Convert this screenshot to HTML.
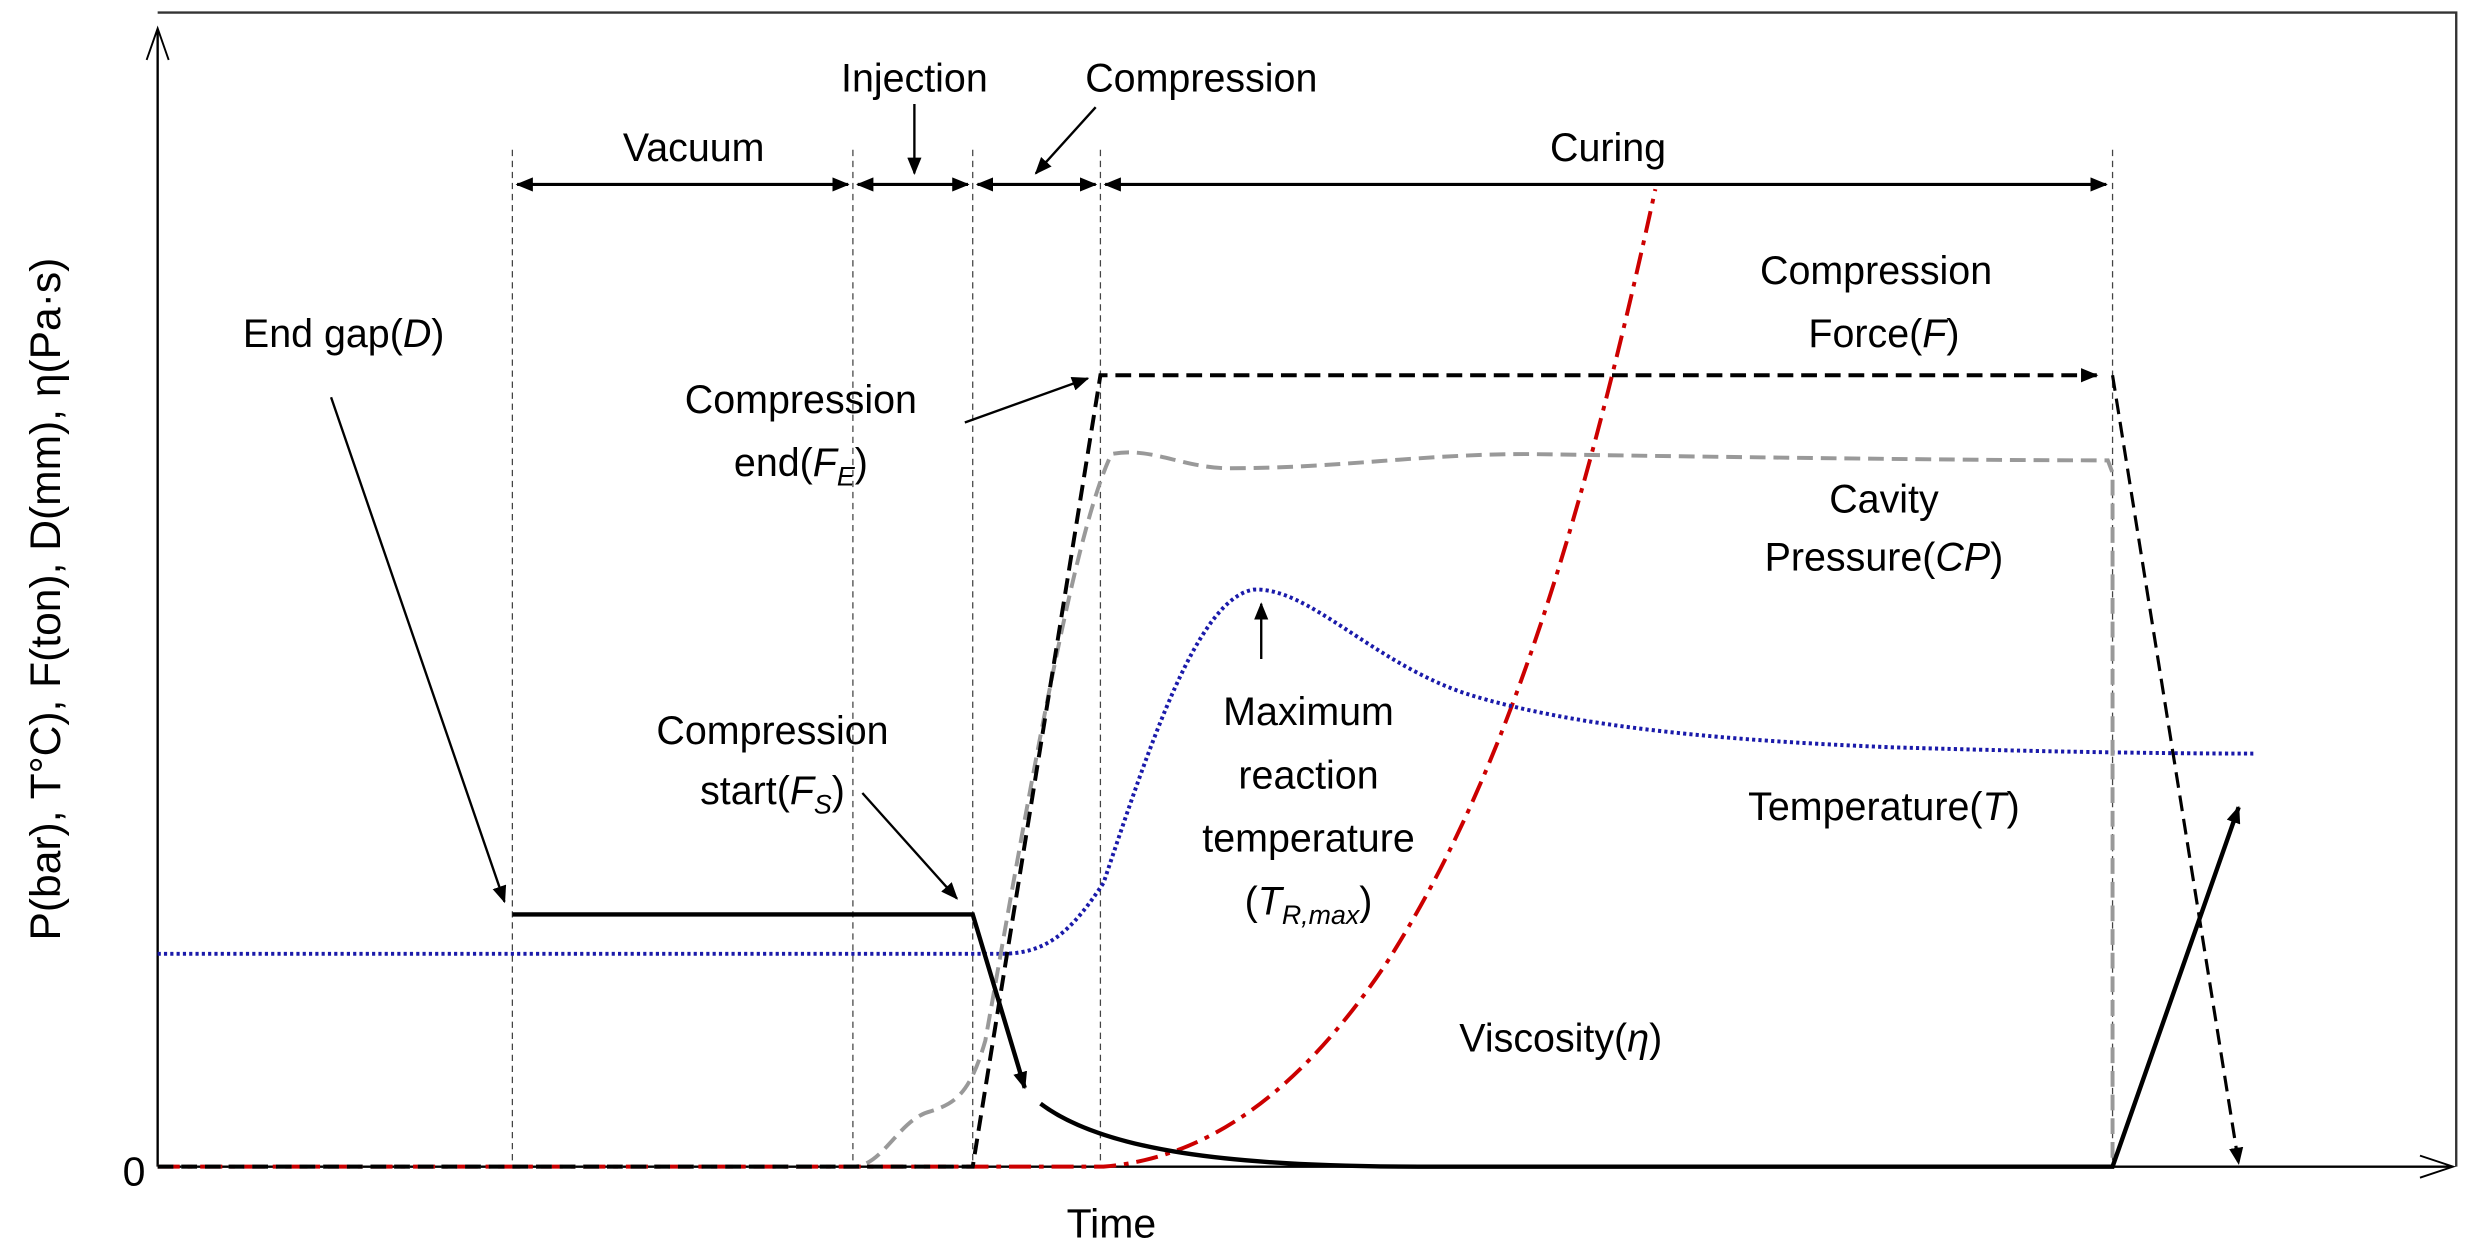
<!DOCTYPE html>
<html><head><meta charset="utf-8"><style>html,body{margin:0;padding:0;background:#fff}svg{display:block}</style></head>
<body>
<svg width="2472" height="1248" viewBox="0 0 1568 791.6" preserveAspectRatio="none" xmlns="http://www.w3.org/2000/svg" font-family="Liberation Sans, sans-serif" font-size="25" fill="#000">
<defs>
<marker id="a" markerWidth="11" markerHeight="9" refX="10" refY="4.5" orient="auto" markerUnits="userSpaceOnUse"><path d="M0,0L11,4.5L0,9z" fill="#000"/></marker>
<marker id="s" markerWidth="11" markerHeight="9" refX="1" refY="4.5" orient="auto" markerUnits="userSpaceOnUse"><path d="M11,0L0,4.5L11,9z" fill="#000"/></marker>
</defs>
<path d="M100,8H1558V740" fill="none" stroke="#333" stroke-width="1.5"/>
<line x1="100" y1="740" x2="100" y2="20" stroke="#000" stroke-width="1.5"/>
<path d="M93,38L100,18L107,38" fill="none" stroke="#000" stroke-width="1.2"/>
<line x1="100" y1="740" x2="1555" y2="740" stroke="#000" stroke-width="1.5"/>
<path d="M1535,733L1556,740L1535,747" fill="none" stroke="#000" stroke-width="1.2"/>
<text x="85" y="752" text-anchor="middle" font-size="26">0</text>
<text x="705" y="785" text-anchor="middle" font-size="26">Time</text>
<text transform="translate(38,380) rotate(-90)" text-anchor="middle" font-size="27">P(bar), T°C), F(ton), D(mm), η(Pa·s)</text>
<g stroke="#444" stroke-width="0.8" stroke-dasharray="4,3">
<line x1="325" y1="95" x2="325" y2="740"/><line x1="541" y1="95" x2="541" y2="740"/>
<line x1="617" y1="95" x2="617" y2="740"/><line x1="698" y1="95" x2="698" y2="740"/>
<line x1="1340" y1="95" x2="1340" y2="740"/>
</g>
<g stroke="#000" stroke-width="2" marker-start="url(#s)" marker-end="url(#a)">
<line x1="328" y1="117" x2="538" y2="117"/><line x1="544" y1="117" x2="614" y2="117"/>
<line x1="620" y1="117" x2="695" y2="117"/><line x1="701" y1="117" x2="1336" y2="117"/>
</g>
<g stroke="#000" stroke-width="1.5" marker-end="url(#a)">
<line x1="580" y1="66" x2="580" y2="110"/><line x1="695" y1="68" x2="657" y2="110"/>
<line x1="210" y1="252" x2="320" y2="572"/>
<line x1="612" y1="268" x2="690" y2="240"/>
<line x1="547" y1="503" x2="607" y2="570"/>
<line x1="800" y1="418" x2="800" y2="383"/>
</g>
<text x="440" y="102" text-anchor="middle">Vacuum</text>
<text x="580" y="58" text-anchor="middle">Injection</text>
<text x="762" y="58" text-anchor="middle">Compression</text>
<text x="1020" y="102" text-anchor="middle">Curing</text>
<text x="218" y="220" text-anchor="middle">End gap(<tspan font-style="italic">D</tspan>)</text>
<text x="508" y="262" text-anchor="middle">Compression</text>
<text x="508" y="302" text-anchor="middle">end(<tspan font-style="italic">F<tspan font-size="17" dy="6">E</tspan></tspan><tspan dy="-6">)</tspan></text>
<text x="1190" y="180" text-anchor="middle">Compression</text>
<text x="1195" y="220" text-anchor="middle">Force(<tspan font-style="italic">F</tspan>)</text>
<text x="1195" y="325" text-anchor="middle">Cavity</text>
<text x="1195" y="362" text-anchor="middle">Pressure(<tspan font-style="italic">CP</tspan>)</text>
<text x="490" y="472" text-anchor="middle">Compression</text>
<text x="490" y="510" text-anchor="middle">start(<tspan font-style="italic">F<tspan font-size="17" dy="6">S</tspan></tspan><tspan dy="-6">)</tspan></text>
<text x="830" y="460" text-anchor="middle">Maximum</text>
<text x="830" y="500" text-anchor="middle">reaction</text>
<text x="830" y="540" text-anchor="middle">temperature</text>
<text x="830" y="580" text-anchor="middle">(<tspan font-style="italic">T<tspan font-size="17" dy="6">R,max</tspan></tspan><tspan dy="-6">)</tspan></text>
<text x="1195" y="520" text-anchor="middle">Temperature(<tspan font-style="italic">T</tspan>)</text>
<text x="990" y="667" text-anchor="middle">Viscosity(<tspan font-style="italic">η</tspan>)</text>
<path d="M100,740H700C760,735 820,700 880,610C950,500 1000,350 1050,120" fill="none" stroke="#c00" stroke-width="2.5" stroke-dasharray="14,5,3,5"/>
<path d="M100,605H635C665,605 680,590 700,560C730,470 760,380 795,374C830,372 870,420 930,440C1000,462 1100,470 1200,474C1300,477 1380,478 1430,478" fill="none" stroke="#1a1aaa" stroke-width="2.5" stroke-dasharray="2,2"/>
<path d="M100,740H541C560,740 570,710 590,705C605,700 615,695 625,660C650,520 680,340 705,288C730,283 750,297 780,297C850,297 900,288 970,288C1100,290 1250,292 1337,292L1340,300V740" fill="none" stroke="#999" stroke-width="2.5" stroke-dasharray="10,5"/>
<path d="M100,740H617L698,238H1330" fill="none" stroke="#000" stroke-width="2.5" stroke-dasharray="10,5" marker-end="url(#a)"/>
<path d="M1340,238L1420,738" fill="none" stroke="#000" stroke-width="2" stroke-dasharray="10,5" marker-end="url(#a)"/>
<path d="M325,580H617L650,690" fill="none" stroke="#000" stroke-width="2.8" marker-end="url(#a)"/>
<path d="M660,700C700,730 780,740 900,740H1340L1420,512" fill="none" stroke="#000" stroke-width="2.8" marker-end="url(#a)"/>
</svg>
</body></html>
